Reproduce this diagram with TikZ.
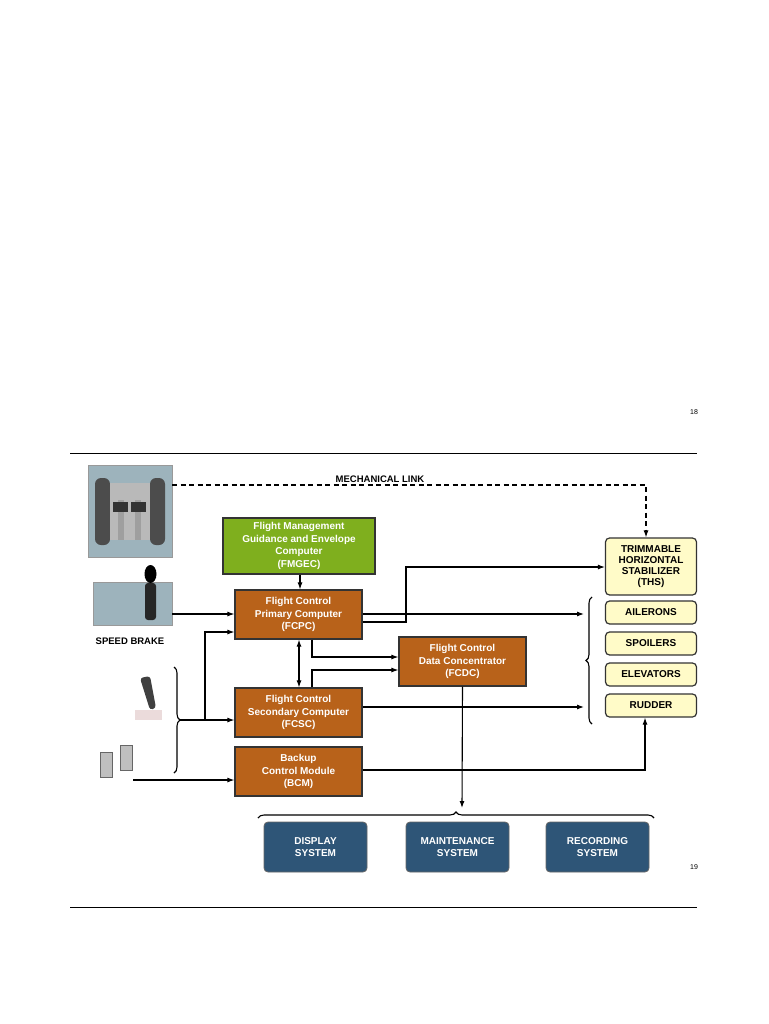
\documentclass[tikz,border=0pt]{standalone}
\usepackage{fontspec}
\setmainfont{Liberation Sans}
\usetikzlibrary{arrows.meta,decorations.pathreplacing}
\definecolor{fcbrown}{HTML}{B8621A}
\definecolor{fcgreen}{HTML}{7FAF1E}
\definecolor{outy}{HTML}{FFFBC8}
\definecolor{sysblue}{HTML}{2E5577}
\definecolor{panel}{HTML}{9DB3BC}
\begin{document}
\begin{tikzpicture}[x=1pt,y=-1pt,
  every node/.style={font=\bfseries\fontsize{9.5}{11}\selectfont},
  comp/.style={draw=black!80,line width=1.2pt,fill=fcbrown,text=white,align=center,inner sep=0pt,font=\bfseries\fontsize{10}{12.5}\selectfont},
  outb/.style={draw=black!80,line width=1.2pt,fill=outy,rounded corners=4pt,align=center,inner sep=0pt,minimum width=91pt,minimum height=23pt,font=\bfseries\fontsize{10}{11}\selectfont},
  sysb/.style={draw=black!60,line width=0.8pt,fill=sysblue,text=white,rounded corners=4pt,align=center,minimum width=103pt,minimum height=50pt,font=\bfseries\fontsize{10}{11.5}\selectfont},
  arr/.style={-{Latex[length=7pt,width=5pt]},line width=1.1pt},
  ln/.style={line width=1.1pt}]
\useasboundingbox (0,0) rectangle (768,1024);
\draw[line width=0.7pt] (70,453) -- (697,453);
\draw[line width=0.7pt] (70,907) -- (697,907);
\node[font=\fontsize{7}{8}\selectfont] at (694,412) {18};
\node[font=\fontsize{7}{8}\selectfont] at (694,867) {19};
% throttle
\node (thr) [draw=black!40,fill=panel,minimum width=84pt,minimum height=92pt,inner sep=0pt] at (130,511) {};
\fill[black!70,rounded corners=6pt] (95,478) rectangle (110,545);
\fill[black!70,rounded corners=6pt] (150,478) rectangle (165,545);
\fill[gray!55] (110,483) rectangle (150,540);
\fill[gray!75] (118,500) rectangle (124,540);
\fill[gray!75] (135,500) rectangle (141,540);
\fill[black!80] (113,502) rectangle (128,512);
\fill[black!80] (131,502) rectangle (146,512);
% speed brake
\node (sb) [draw=black!40,fill=panel,minimum width=79pt,minimum height=43pt,inner sep=0pt] at (132.5,603.5) {};
\fill[black!85,rounded corners=3pt] (145,583) rectangle (156,620);
\fill[black] (150.5,574) ellipse (6pt and 9pt);
\node at (130,641) {SPEED BRAKE};
% sidestick
\fill[pink!60!gray!40] (135,710) rectangle (162,720);
\fill[black!75,rounded corners=3pt] (140,678) -- (150,676) -- (156,708) -- (150,710) -- cycle;
% pedals
\fill[gray!50,draw=black!60] (100,752) rectangle (112,777);
\fill[gray!50,draw=black!60] (120,745) rectangle (132,770);
\coordinate (ped) at (133,780);
% computers
\node (fmgec) [comp,fill=fcgreen,minimum width=152pt,minimum height=56pt] at (299,546) {Flight Management\\Guidance and Envelope\\Computer\\(FMGEC)};
\node (fcpc) [comp,minimum width=127pt,minimum height=49pt] at (298.5,614.5) {Flight Control\\Primary Computer\\(FCPC)};
\node (fcdc) [comp,minimum width=127pt,minimum height=49pt] at (462.5,661.5) {Flight Control\\Data Concentrator\\(FCDC)};
\node (fcsc) [comp,minimum width=127pt,minimum height=49pt] at (298.5,712.5) {Flight Control\\Secondary Computer\\(FCSC)};
\node (bcm) [comp,minimum width=127pt,minimum height=49pt] at (298.5,771.5) {Backup\\Control Module\\(BCM)};
% outputs
\node (ths) [outb,minimum height=57pt] at (651,566.5) {TRIMMABLE\\HORIZONTAL\\STABILIZER\\(THS)};
\node (ail) [outb] at (651,612.5) {AILERONS};
\node (spo) [outb] at (651,643.5) {SPOILERS};
\node (ele) [outb] at (651,674.5) {ELEVATORS};
\node (rud) [outb] at (651,705.5) {RUDDER};
% systems
\node (disp) [sysb] at (315.5,847) {DISPLAY\\SYSTEM};
\node (maint) [sysb] at (457.5,847) {MAINTENANCE\\SYSTEM};
\node (rec) [sysb] at (597.5,847) {RECORDING\\SYSTEM};
% braces
\draw[ln,decorate,decoration={brace,amplitude=6pt}] (592,724) -- (592,597);
\draw[ln,decorate,decoration={brace,amplitude=6pt}] (258,818) -- (654,818);
\draw[ln,decorate,decoration={brace,amplitude=6pt}] (174,667) -- (174,773);
\coordinate (lb) at (180,720);
% mechanical link
\draw[ln,dash pattern=on 5pt off 3.5pt,-{Latex[length=7pt,width=5pt]}] (thr.east |- 0,485) -- (646,485) -- (ths.north -| 646,0);
\node at (380,479) {MECHANICAL LINK};
% connections
\draw[arr] (fmgec.south -| 300,0) -- (fcpc.north -| 300,0);
\draw[arr] (sb.east |- 0,614) -- (fcpc.west |- 0,614);
\draw[arr] (lb) -- (fcsc.west |- 0,720);
\draw[arr] (205,720) -- (205,632) -- (fcpc.west |- 0,632);
\draw[arr] (ped) -- (bcm.west |- 0,780);
\draw[arr,{Latex[length=7pt,width=5pt]}-{Latex[length=7pt,width=5pt]}] (fcpc.south -| 299,0) -- (fcsc.north -| 299,0);
\draw[arr] (fcpc.south -| 312,0) -- (312,657) -- (fcdc.west |- 0,657);
\draw[arr] (fcsc.north -| 312,0) -- (312,670) -- (fcdc.west |- 0,670);
\draw[arr] (fcpc.east |- 0,622) -- (406,622) -- (406,567) -- (ths.west |- 0,567);
\draw[arr] (fcpc.east |- 0,614) -- (584,614);
\draw[arr] (fcsc.east |- 0,707) -- (584,707);
\draw[arr] (fcdc.south) -- (462,808);
\draw[arr] (bcm.east |- 0,770) -- (645,770) -- (rud.south -| 645,0);
\end{tikzpicture}
\end{document}
